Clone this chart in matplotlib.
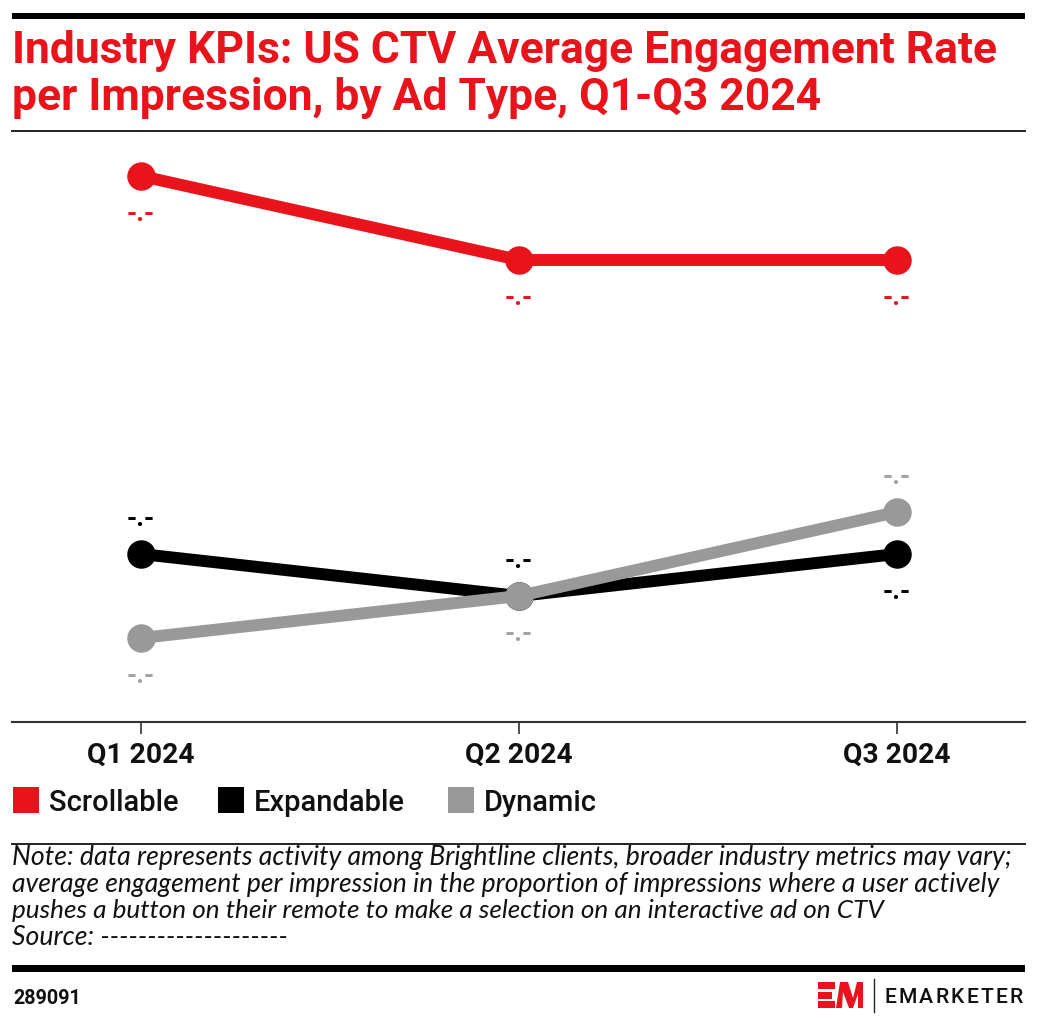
import matplotlib
matplotlib.use("Agg")
import matplotlib.pyplot as plt
from matplotlib.patches import Rectangle, Polygon
from matplotlib import font_manager as fm

# ---------------- data ----------------
categories = ["Q1 2024", "Q2 2024", "Q3 2024"]
series_names = ["Scrollable", "Expandable", "Dynamic"]
scrollable = [1.3, 1.1, 1.1]
expandable = [0.4, 0.3, 0.4]
dynamic = [0.2, 0.3, 0.5]
point_labels = ["-.-", "-.-", "-.-"]

title_lines = ["Industry KPIs: US CTV Average Engagement Rate",
               "per Impression, by Ad Type, Q1-Q3 2024"]
note_lines = [
    "Note: data represents activity among Brightline clients, broader industry metrics may vary;",
    "average engagement per impression in the proportion of impressions where a user actively",
    "pushes a button on their remote to make a selection on an interactive ad on CTV",
    "Source: --------------------",
]
chart_id = "289091"
brand = "EMARKETER"

# ---------------- style ----------------
RED = "#E8131B"
BLACK = "#000000"
GRAY = "#999999"
colors = [RED, BLACK, GRAY]
label_colors = [RED, BLACK, "#A3A3A3"]
label_side = [["below", "below", "below"],
              ["above", "above", "below"],
              ["below", "below", "above"]]
FONT = ["Roboto", "DejaVu Sans"]
plt.rcParams["font.family"] = FONT


def has_font(name, **kw):
    try:
        fm.findfont(fm.FontProperties(family=name, **kw), fallback_to_default=False)
        return True
    except Exception:
        return False


NOTE_FONT = ["Lato", "Roboto"] if has_font("Lato", style="italic") else FONT

W, H = 1038, 1026
fig = plt.figure(figsize=(W / 100, H / 100), dpi=100)
renderer = fig.canvas.get_renderer()

# overlay axes in pixel coordinates for decorations
ov = fig.add_axes([0, 0, 1, 1])
ov.set_xlim(0, W)
ov.set_ylim(H, 0)
ov.axis("off")
ov.patch.set_visible(False)
ov.set_zorder(0)


def fit(s, target_w, **kw):
    t = ov.text(0, 0, s, fontsize=20, **kw)
    w = t.get_window_extent(renderer).width
    t.remove()
    return 20 * target_w / w


# ---------------- plot axes ----------------
y0_px, top_px = 722, 131
px_per_unit_y = 420
x_first, x_step = 141, 378
left_px, right_px = 12, 1025
ax = fig.add_axes([left_px / W, 1 - y0_px / H, (right_px - left_px) / W, (y0_px - top_px) / H])
ax.set_zorder(1)
ax.patch.set_visible(False)
ax.set_ylim(0, (y0_px - top_px) / px_per_unit_y)
ax.set_xlim((left_px - x_first) / x_step, (right_px - x_first) / x_step)

xs = list(range(len(categories)))
all_series = [scrollable, expandable, dynamic]
for i, (vals, c) in enumerate(zip(all_series, colors)):
    ax.plot(xs, vals, color=c, lw=8.6, marker="o", ms=19.5, solid_capstyle="round",
            zorder=2 + i, clip_on=False)

lab_fs = fit("-.-", 28, fontweight="bold")
for i, vals in enumerate(all_series):
    for j, v in enumerate(vals):
        off = 25 if label_side[i][j] == "above" else -27.5
        ax.annotate(point_labels[j], (xs[j], v), xytext=(0, off), textcoords="offset points",
                    ha="center", va="center", color=label_colors[i], fontsize=lab_fs,
                    fontweight="bold", zorder=10)

for s in ["top", "left", "right"]:
    ax.spines[s].set_visible(False)
ax.spines["bottom"].set_color("#333333")
ax.spines["bottom"].set_linewidth(1.5)
ax.set_yticks([])
tick_fs = fit("Q1 2024", 107, fontweight="bold")
ax.set_xticks(xs)
ax.set_xticklabels(categories, fontsize=tick_fs, fontweight="bold", color="#111111")
ax.tick_params(axis="x", length=8.6, width=1.2, color="#333333", pad=5.5)

# ---------------- title & rules ----------------
ov.add_patch(Rectangle((12, 12.7), 1013, 6.6, color="black", lw=0))
t_fs = fit(title_lines[0], 983, fontweight="bold")
ov.text(12, 62.7, title_lines[0], fontsize=t_fs, fontweight="bold", color=RED, va="baseline", ha="left")
ov.text(12, 110, title_lines[1], fontsize=t_fs, fontweight="bold", color=RED, va="baseline", ha="left")
ov.plot([12, 1025], [131, 131], color="#222222", lw=1.4)

# ---------------- legend ----------------
leg_fs = fit("Scrollable", 130, fontweight="medium")
sq_x = [13, 218, 448]
for name, c, sx in zip(series_names, colors, sq_x):
    ov.add_patch(Rectangle((sx, 787), 26, 26, color=c, lw=0))
    ov.text(sx + 36, 811, name, fontsize=leg_fs, fontweight="medium", color="#111111",
            va="baseline", ha="left")

# ---------------- notes ----------------
ov.plot([12, 1025], [844, 844], color="#222222", lw=1.4)
note_targets = [997, 988, 873]
base_fs = fit(note_lines[0], note_targets[0], fontstyle="italic", family=NOTE_FONT)
for k, line in enumerate(note_lines):
    if k < len(note_targets):
        fs = fit(line, note_targets[k], fontstyle="italic", family=NOTE_FONT)
        fs = min(max(fs, base_fs * 0.96), base_fs * 1.04)
    else:
        fs = base_fs
    ov.text(12, 865 + k * 26.7, line, fontsize=fs, fontstyle="italic", color="#111111",
            va="baseline", ha="left", family=NOTE_FONT)

# ---------------- footer ----------------
ov.add_patch(Rectangle((12, 965), 1013, 7, color="black", lw=0))
id_fs = fit(chart_id, 68, fontweight="bold")
ov.text(13, 1004, chart_id, fontsize=id_fs, fontweight="bold", color="#111111", va="baseline", ha="left")

# logo: E as three bars, M as polygon
for yb in [982, 991.5, 1001]:
    ov.add_patch(Rectangle((818, yb), 17 if yb != 991.5 else 14, 7, color=RED, lw=0))
m_pts = [(836, 1008), (840, 982), (848, 982), (853, 998), (857, 982), (863, 982),
         (863, 1008), (858, 1008), (858, 994), (853, 1008), (849, 1008), (843, 992), (842, 1008)]
ov.add_patch(Polygon(m_pts, closed=True, color=RED, lw=0))
ov.plot([874, 874], [979, 1012], color="#222222", lw=1.0)

# EMARKETER letter-spaced
b_fs = 15 / 0.711 * 0.72
widths = []
for ch in brand:
    t = ov.text(0, 0, ch, fontsize=b_fs, fontweight="medium")
    widths.append(t.get_window_extent(renderer).width)
    t.remove()
total = 1023 - 884
track = (total - sum(widths)) / (len(brand) - 1)
xc = 884
for ch, w in zip(brand, widths):
    ov.text(xc, 1003, ch, fontsize=b_fs, fontweight="medium", color="#111111", va="baseline", ha="left")
    xc += w + track

fig.savefig("out.png", dpi=100)
